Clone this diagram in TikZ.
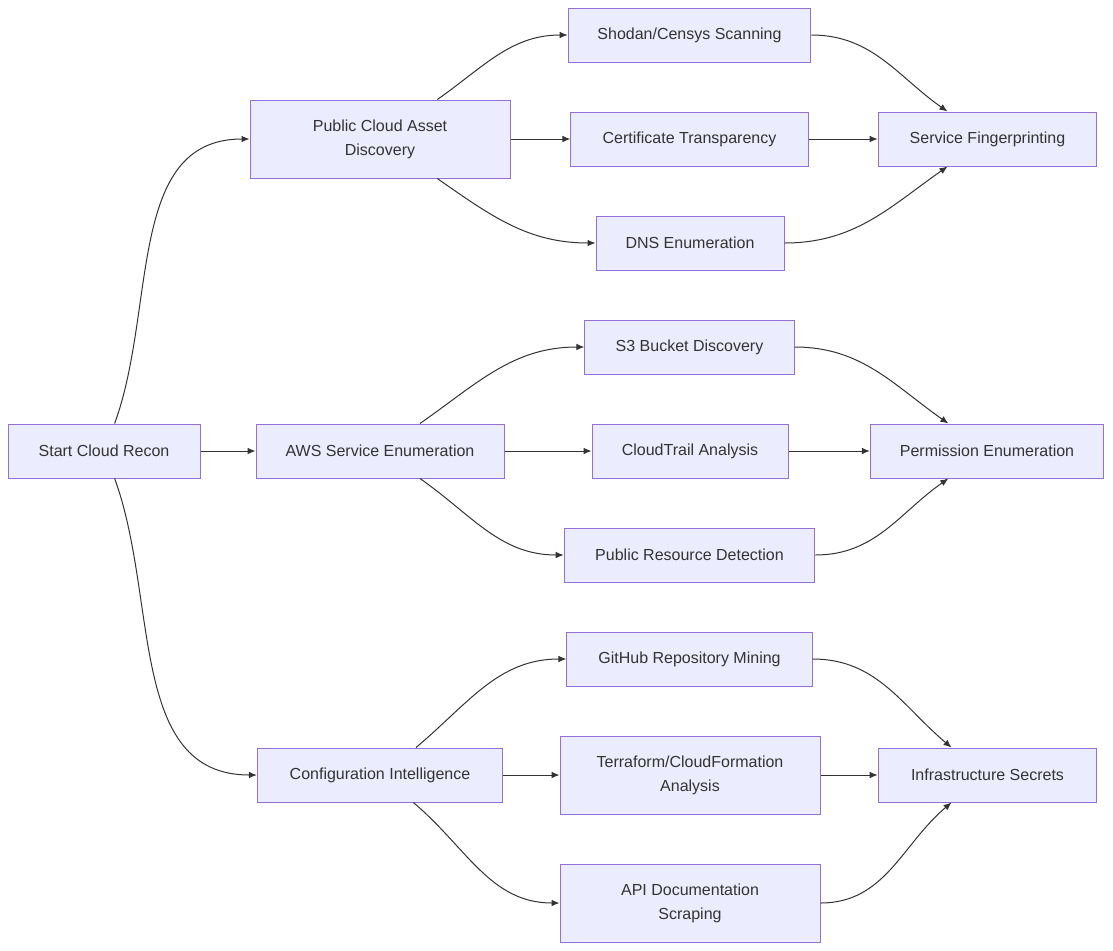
\documentclass[tikz,border=0pt]{standalone}
\usepackage{fontspec}
\setmainfont{Liberation Sans}
\usetikzlibrary{arrows.meta}
\definecolor{nfill}{HTML}{ECECFF}
\definecolor{nline}{HTML}{9370DB}
\definecolor{eline}{HTML}{333333}
\begin{document}
\begin{tikzpicture}[x=0.75pt,y=-0.75pt,
  box/.style={draw=nline,fill=nfill,line width=0.75pt,minimum height=40.5pt,inner sep=0pt,align=center,font=\fontsize{12}{18}\selectfont,text=eline},
  tall/.style={box,minimum height=58.5pt},
  e/.style={draw=eline,line width=0.75pt,-{Latex[length=6pt,width=5pt]}}]
\useasboundingbox (0,0) rectangle (1113,950);
\node[box,minimum width=144pt] (start) at (104,451) {Start Cloud Recon};
\node[tall,minimum width=195pt] (pca) at (380,139) {Public Cloud Asset\\Discovery};
\node[box,minimum width=186pt] (aws) at (380,451) {AWS Service Enumeration};
\node[box,minimum width=184pt] (cfg) at (380,775) {Configuration Intelligence};
\node[box,minimum width=182pt] (sho) at (689.5,35) {Shodan/Censys Scanning};
\node[box,minimum width=178pt] (cert) at (689.5,139) {Certificate Transparency};
\node[box,minimum width=141pt] (dns) at (690,243) {DNS Enumeration};
\node[box,minimum width=164pt] (svc) at (987.5,139) {Service Fingerprinting};
\node[box,minimum width=157pt] (s3) at (689.5,347) {S3 Bucket Discovery};
\node[box,minimum width=147pt] (ct) at (690,451) {CloudTrail Analysis};
\node[box,minimum width=188pt] (pub) at (689.5,555) {Public Resource Detection};
\node[box,minimum width=175pt] (perm) at (987,451) {Permission Enumeration};
\node[box,minimum width=184pt] (gh) at (689.5,659) {GitHub Repository Mining};
\node[tall,minimum width=195pt] (tf) at (690,775) {Terraform/CloudFormation\\Analysis};
\node[tall,minimum width=195pt] (api) at (690,903) {API Documentation\\Scraping};
\node[box,minimum width=164pt] (inf) at (987.5,775) {Infrastructure Secrets};

\draw[e] ([xshift=8pt]start.north) to[out=70,in=180] (pca.west);
\draw[e] (start.east) -- (aws.west);
\draw[e] ([xshift=8pt]start.south) to[out=-70,in=180] (cfg.west);

\draw[e] ([xshift=43pt]pca.north) to[out=35,in=180] (sho.west);
\draw[e] (pca.east) -- (cert.west);
\draw[e] ([xshift=43pt]pca.south) to[out=-35,in=180] (dns.west);
\draw[e] (sho.east) to[out=0,in=145] ([xshift=-30pt]svc.north);
\draw[e] (cert.east) -- (svc.west);
\draw[e] (dns.east) to[out=0,in=-145] ([xshift=-30pt]svc.south);

\draw[e] ([xshift=30pt]aws.north) to[out=35,in=180] (s3.west);
\draw[e] (aws.east) -- (ct.west);
\draw[e] ([xshift=30pt]aws.south) to[out=-35,in=180] (pub.west);
\draw[e] (s3.east) to[out=0,in=145] ([xshift=-29pt]perm.north);
\draw[e] (ct.east) -- (perm.west);
\draw[e] (pub.east) to[out=0,in=-145] ([xshift=-29pt]perm.south);

\draw[e] ([xshift=27pt]cfg.north) to[out=40,in=180] (gh.west);
\draw[e] (cfg.east) -- (tf.west);
\draw[e] ([xshift=25pt]cfg.south) to[out=-40,in=180] (api.west);
\draw[e] (gh.east) to[out=0,in=140] ([xshift=-27pt]inf.north);
\draw[e] (tf.east) -- (inf.west);
\draw[e] (api.east) to[out=0,in=-140] ([xshift=-27pt]inf.south);
\end{tikzpicture}
\end{document}
